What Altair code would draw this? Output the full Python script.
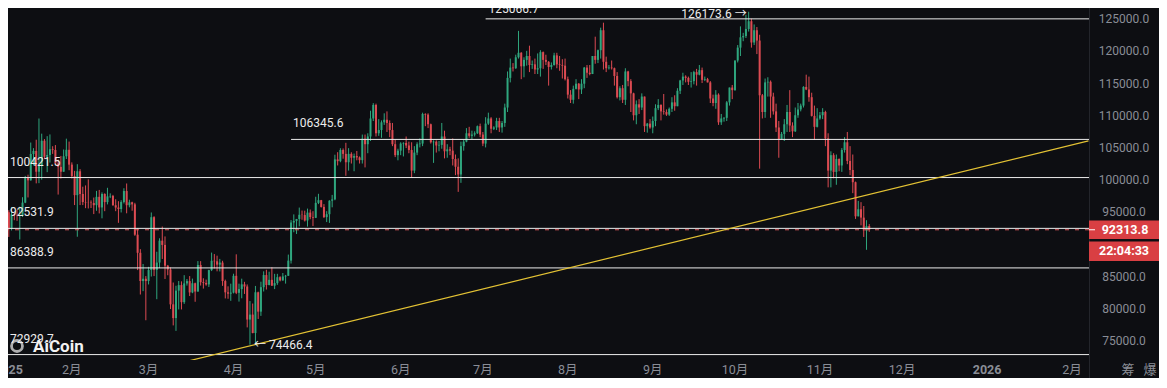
import altair as alt
import pandas as pd

# ---------------- data (daily candles, values in thousands of USDT) ----------------
FIRST_DAY = "2025-01-06"

open_k = [
    # Jan 6-31
    98.31, 102.08, 96.92, 95.04, 92.48, 94.70, 94.57, 94.51, 94.52, 96.53, 100.5, 99.99, 104.08, 104.56,
    101.33, 102.26, 106.14, 103.65, 103.93, 104.82, 104.71, 102.62, 102.08, 101.33, 103.73, 104.73,
    # Feb
    102.43, 100.64, 97.69, 101.4, 97.87, 96.62, 96.55, 96.53, 96.47, 96.13, 97.43, 95.78, 97.87, 96.61,
    97.5, 97.57, 96.12, 95.77, 95.54, 96.62, 98.33, 96.13, 96.58, 96.26, 91.55, 88.74, 84.35, 84.7,
    # Mar
    84.35, 86.06, 94.27, 86.07, 87.22, 90.62, 89.96, 86.74, 86.15, 80.73, 78.6, 82.86, 83.72, 81.07,
    83.98, 84.34, 82.58, 84.01, 82.72, 86.85, 84.17, 84.04, 83.83, 86.05, 87.5, 87.42, 86.9, 87.22,
    84.35, 82.6, 82.39,
    # Apr
    82.55, 85.16, 82.52, 83.1, 83.84, 83.5, 78.37, 79.14, 76.27, 82.6, 79.6, 83.4, 85.28, 83.74,
    84.54, 83.63, 84.03, 84.95, 84.45, 85.06, 85.17, 87.52, 93.44, 93.69, 93.98, 94.64, 94.6, 93.75,
    94.98, 94.28,
    # May
    94.17, 96.49, 96.91, 95.86, 94.28, 94.73, 96.83, 97.03, 103.24, 102.97, 104.7, 104.1, 102.8, 104.1,
    103.5, 103.76, 103.55, 103.13, 106.45, 105.6, 106.8, 109.6, 111.7, 107.3, 107.8, 109.0, 109.4, 108.9,
    107.8, 105.6, 103.9,
    # Jun
    104.6, 105.7, 105.8, 105.4, 104.7, 101.5, 104.3, 105.6, 105.7, 110.3, 110.2, 108.7, 105.9, 106.0,
    105.4, 105.5, 106.8, 104.5, 104.8, 104.6, 103.3, 102.1, 100.9, 105.3, 106.0, 107.3, 106.9, 107.1,
    107.3, 108.4,
    # Jul
    107.1, 105.7, 108.8, 109.6, 108.0, 108.2, 109.2, 108.2, 108.9, 111.3, 115.9, 117.5, 117.4, 119.1,
    119.8, 117.7, 118.7, 119.3, 117.9, 118.0, 117.2, 117.4, 119.9, 118.7, 118.4, 117.6, 117.9, 119.4,
    118.0, 117.9, 117.8,
    # Aug
    115.7, 113.3, 112.5, 114.2, 115.0, 114.1, 115.0, 117.5, 116.7, 116.5, 119.3, 118.7, 120.2, 123.3,
    118.4, 117.4, 117.5, 117.4, 116.2, 112.9, 114.3, 112.5, 116.9, 115.4, 113.5, 110.1, 111.8, 111.3,
    113.0, 108.4, 108.8,
    # Sep
    108.2, 109.2, 111.2, 111.7, 110.7, 110.6, 110.2, 111.1, 112.1, 111.5, 113.9, 115.5, 116.1, 115.9,
    115.3, 115.4, 116.8, 116.4, 117.1, 115.6, 115.7, 115.2, 112.7, 112.0, 113.3, 109.0, 109.6, 109.7,
    112.1, 114.4,
    # Oct
    114.0, 118.6, 120.6, 122.2, 122.4, 123.5, 124.7, 121.4, 123.3, 121.7, 113.2, 110.6, 115.2, 115.3,
    113.0, 110.7, 108.2, 106.4, 107.2, 108.7, 110.6, 108.5, 107.6, 110.1, 111.0, 111.6, 114.5, 114.1,
    112.9, 110.0, 108.3,
    # Nov 1-19
    109.6, 110.1, 110.6, 106.5, 101.5, 103.9, 101.3, 103.3, 102.3, 104.7, 105.9, 103.0, 101.6, 99.7,
    94.4, 95.5, 94.2, 92.2, 92.9,
]

high_k = [
    102.48, 102.72, 97.26, 95.35, 95.84, 94.98, 95.4, 95.9, 97.37, 100.68, 100.87, 105.86, 104.99, 106.3,
    109.59, 107.24, 106.4, 106.85, 107.12, 105.29, 105.47, 103.22, 103.78, 104.78, 106.46, 106.01,
    102.78, 101.46, 102.5, 101.73, 99.0, 99.2, 100.14, 96.88, 97.32, 98.35, 98.5, 98.12, 97.98, 98.83,
    97.97, 97.73, 97.05, 96.75, 96.9, 98.76, 99.5, 96.98, 96.67, 96.5, 92.54, 89.3, 87.0, 85.12,
    86.56, 95.0, 94.42, 88.9, 90.99, 92.81, 91.28, 86.85, 86.47, 84.12, 83.62, 84.36, 84.3, 85.26,
    84.67, 85.12, 84.73, 84.1, 87.45, 87.44, 84.78, 84.57, 86.1, 88.77, 88.54, 88.29, 87.79, 87.5,
    84.57, 83.53, 83.94,
    85.49, 88.5, 83.94, 84.72, 84.23, 83.82, 81.24, 80.86, 83.59, 82.7, 84.25, 85.86, 86.1, 85.8,
    86.5, 85.47, 85.47, 85.1, 85.6, 85.3, 88.46, 93.82, 94.7, 94.0, 95.76, 95.3, 95.28, 95.6,
    95.46, 95.2,
    97.44, 97.9, 96.95, 96.3, 95.2, 96.9, 97.73, 103.97, 104.36, 104.98, 104.94, 105.82, 104.99, 104.35,
    104.15, 104.55, 103.7, 107.1, 107.1, 107.3, 110.8, 111.98, 111.9, 109.5, 109.3, 110.4, 110.7, 109.3,
    108.9, 106.3, 104.9,
    105.9, 105.9, 106.8, 106.0, 105.9, 105.3, 105.9, 106.5, 110.5, 110.4, 110.4, 108.8, 106.2, 106.2,
    106.1, 108.9, 107.7, 105.6, 105.2, 106.5, 104.0, 103.4, 106.0, 106.3, 108.1, 108.3, 107.7, 107.6,
    108.5, 108.8,
    107.5, 109.8, 110.5, 109.8, 108.4, 109.7, 109.7, 109.2, 111.9, 116.9, 118.9, 118.2, 119.5, 123.2,
    119.9, 119.1, 120.1, 120.9, 118.6, 118.9, 119.7, 120.2, 120.0, 119.5, 118.5, 118.3, 119.8, 119.8,
    119.3, 118.8, 118.9,
    116.1, 114.0, 114.7, 115.7, 115.1, 115.7, 117.6, 117.9, 117.9, 119.3, 122.3, 120.3, 123.7, 124.47,
    119.2, 117.9, 118.6, 117.5, 116.8, 114.6, 114.8, 117.4, 117.0, 115.7, 113.6, 112.4, 112.6, 113.5,
    113.0, 108.9, 109.5,
    109.9, 111.8, 112.6, 111.8, 113.4, 111.0, 111.3, 112.9, 113.2, 114.3, 115.6, 116.7, 116.3, 116.1,
    116.8, 117.0, 117.3, 117.9, 117.5, 116.1, 115.9, 115.4, 113.3, 114.0, 113.5, 110.3, 109.8, 112.3,
    114.4, 114.8,
    118.6, 121.0, 123.9, 122.9, 125.7, 126.1736, 125.1, 124.2, 123.8, 122.6, 113.4, 115.8, 116.0, 115.5,
    113.6, 111.9, 109.2, 107.5, 109.5, 111.7, 114.0, 109.0, 111.3, 112.0, 111.9, 114.6, 116.4, 116.1,
    113.6, 111.6, 111.2,
    110.6, 111.2, 110.8, 107.3, 104.5, 104.2, 104.0, 103.4, 105.0, 106.7, 107.5, 105.3, 104.0, 99.8,
    96.8, 96.6, 96.0, 93.8, 93.2,
]

low_k = [
    97.9, 96.1, 92.5, 91.2, 92.2, 93.8, 93.7, 90.8, 94.3, 96.45, 97.33, 99.95, 102.3, 99.52,
    99.55, 100.1, 103.3, 101.26, 102.75, 104.1, 102.46, 97.78, 100.27, 101.33, 103.3, 101.56,
    100.28, 96.15, 91.23, 96.15, 96.15, 95.67, 95.62, 95.69, 94.75, 95.26, 94.85, 94.09, 95.2, 96.25,
    97.23, 96.05, 95.2, 93.39, 95.0, 96.4, 94.87, 95.8, 95.27, 91.37, 86.05, 82.26, 82.78, 78.26,
    83.82, 85.05, 85.12, 81.53, 86.38, 87.78, 84.67, 85.25, 80.0, 77.46, 76.61, 79.94, 79.94, 80.8,
    83.64, 82.02, 82.46, 81.13, 82.7, 83.65, 83.18, 83.63, 83.43, 85.9, 86.3, 85.86, 85.84, 83.6,
    81.65, 81.6, 81.28,
    82.43, 82.32, 81.16, 81.67, 82.35, 77.15, 74.4664, 76.24, 74.62, 78.46, 78.94, 82.73, 83.03, 83.68,
    83.6, 83.1, 83.76, 84.3, 84.4, 83.95, 85.14, 87.07, 91.93, 91.66, 92.85, 93.87, 93.6, 92.8,
    93.95, 92.9,
    94.13, 96.3, 95.76, 94.13, 93.51, 93.38, 95.8, 96.9, 102.3, 102.8, 103.35, 100.7, 101.5, 102.6,
    101.4, 103.1, 102.6, 102.6, 102.0, 104.2, 106.1, 109.2, 106.8, 106.9, 106.6, 108.6, 107.5, 106.7,
    105.3, 103.6, 103.1,
    103.9, 103.7, 105.0, 104.2, 100.4, 101.1, 103.9, 105.1, 105.3, 108.4, 108.1, 105.7, 102.7, 104.3,
    104.5, 104.9, 103.4, 103.5, 103.9, 102.3, 100.8, 98.2, 99.6, 104.6, 105.9, 106.6, 106.4, 106.8,
    107.2, 106.7,
    105.3, 105.1, 108.6, 107.3, 107.8, 107.8, 107.5, 107.4, 108.3, 110.6, 115.2, 116.9, 117.3, 118.9,
    115.7, 116.0, 117.8, 116.8, 117.3, 116.5, 116.5, 116.1, 117.3, 117.9, 114.7, 117.2, 117.8, 117.4,
    117.0, 115.8, 115.5,
    112.7, 112.0, 111.9, 114.1, 112.6, 113.4, 114.3, 115.9, 116.3, 116.5, 118.1, 118.2, 118.9, 117.2,
    116.8, 117.2, 117.2, 114.7, 112.7, 112.4, 112.0, 111.7, 114.6, 110.6, 109.3, 108.7, 110.3, 110.9,
    107.5, 107.4, 108.0,
    107.3, 108.4, 110.9, 109.3, 110.2, 110.0, 110.0, 110.6, 110.8, 111.5, 113.4, 114.8, 115.2, 114.8,
    114.4, 114.9, 114.7, 116.3, 115.1, 115.4, 115.2, 112.0, 111.5, 111.1, 108.6, 108.6, 109.1, 109.2,
    111.6, 112.6,
    113.9, 118.3, 119.3, 121.6, 122.1, 123.1, 120.6, 121.0, 119.6, 101.8, 109.6, 109.7, 113.0, 109.7,
    110.2, 107.5, 103.5, 106.3, 106.1, 107.5, 107.5, 106.7, 107.5, 109.7, 110.7, 111.3, 114.0, 112.2,
    109.9, 106.3, 108.2,
    109.4, 109.5, 105.3, 98.9, 98.9, 100.3, 99.3, 101.4, 101.3, 104.3, 102.5, 100.8, 98.0, 94.0,
    94.4, 93.0, 91.2, 89.2, 92.0,
]

close_k = [
    102.08, 96.92, 95.04, 92.48, 94.70, 94.57, 94.51, 94.52, 96.53, 100.5, 99.99, 104.08, 104.56, 101.33,
    102.26, 106.14, 103.65, 103.93, 104.82, 104.71, 102.62, 102.08, 101.33, 103.73, 104.73, 102.43,
    100.64, 97.69, 101.4, 97.87, 96.62, 96.55, 96.53, 96.47, 96.13, 97.43, 95.78, 97.87, 96.61, 97.5,
    97.57, 96.12, 95.77, 95.54, 96.62, 98.33, 96.13, 96.58, 96.26, 91.55, 88.74, 84.35, 84.7, 84.35,
    86.06, 94.27, 86.07, 87.22, 90.62, 89.96, 86.74, 86.15, 80.73, 78.6, 82.86, 83.72, 81.07, 83.98,
    84.34, 82.58, 84.01, 82.72, 86.85, 84.17, 84.04, 83.83, 86.05, 87.5, 87.42, 86.9, 87.22, 84.35,
    82.6, 82.39, 82.55,
    85.16, 82.52, 83.1, 83.84, 83.5, 78.37, 79.14, 76.27, 82.6, 79.6, 83.4, 85.28, 83.74, 84.54,
    83.63, 84.03, 84.95, 84.45, 85.06, 85.17, 87.52, 93.44, 93.69, 93.98, 94.64, 94.6, 93.75, 94.98,
    94.28, 94.17,
    96.49, 96.91, 95.86, 94.28, 94.73, 96.83, 97.03, 103.24, 102.97, 104.7, 104.1, 102.8, 104.1, 103.5,
    103.76, 103.55, 103.13, 106.45, 105.6, 106.8, 109.6, 111.7, 107.3, 107.8, 109.0, 109.4, 108.9, 107.8,
    105.6, 103.9, 104.6,
    105.7, 105.8, 105.4, 104.7, 101.5, 104.3, 105.6, 105.7, 110.3, 110.2, 108.7, 105.9, 106.0, 105.4,
    105.5, 106.8, 104.5, 104.8, 104.6, 103.3, 102.1, 100.9, 105.3, 106.0, 107.3, 106.9, 107.1, 107.3,
    108.4, 107.1,
    105.7, 108.8, 109.6, 108.0, 108.2, 109.2, 108.2, 108.9, 111.3, 115.9, 117.5, 117.4, 119.1, 119.8,
    117.7, 118.7, 119.3, 117.9, 118.0, 117.2, 117.4, 119.9, 118.7, 118.4, 117.6, 117.9, 119.4, 118.0,
    117.9, 117.8, 115.7,
    113.3, 112.5, 114.2, 115.0, 114.1, 115.0, 117.5, 116.7, 116.5, 119.3, 118.7, 120.2, 123.3, 118.4,
    117.4, 117.5, 117.4, 116.2, 112.9, 114.3, 112.5, 116.9, 115.4, 113.5, 110.1, 111.8, 111.3, 113.0,
    108.4, 108.8, 108.2,
    109.2, 111.2, 111.7, 110.7, 110.6, 110.2, 111.1, 112.1, 111.5, 113.9, 115.5, 116.1, 115.9, 115.3,
    115.4, 116.8, 116.4, 117.1, 115.6, 115.7, 115.2, 112.7, 112.0, 113.3, 109.0, 109.6, 109.7, 112.1,
    114.4, 114.0,
    118.6, 120.6, 122.2, 122.4, 123.5, 124.7, 121.4, 123.3, 121.7, 113.2, 110.6, 115.2, 115.3, 113.0,
    110.7, 108.2, 106.4, 107.2, 108.7, 110.6, 108.5, 107.6, 110.1, 111.0, 111.6, 114.5, 114.1, 112.9,
    110.0, 108.3, 109.6,
    110.1, 110.6, 106.5, 101.5, 103.9, 101.3, 103.3, 102.3, 104.7, 105.9, 103.0, 101.6, 99.7, 94.4,
    95.5, 94.2, 92.2, 92.9, 92.3138,
]

# horizontal levels drawn on the chart
level_values = [125066.7, 106345.6, 100421.5, 92531.9, 86388.9, 72929.7]
level_start = ["2025-07-02", "2025-04-22", "2025-01-01", "2025-01-01", "2025-01-01", "2025-01-01"]
level_label_at = ["2025-07-02", "2025-04-22", "2025-01-08T17:00:00Z", "2025-01-08T17:00:00Z",
                  "2025-01-08T17:00:00Z", "2025-01-08T17:00:00Z"]
LEVEL_END = "2026-02-20"

# yellow trend line (two anchor points)
trend_dates = ["2025-03-07", "2026-02-07"]
trend_values = [71050, 106125]

# extreme annotations
high_date, high_value = "2025-10-06", 126173.6
low_date, low_value = "2025-04-07", 74466.4

# last price & countdown
last_price = [92313.8]
countdown = ["22:04:33"]

# axis labels
y_ticks = [75000, 80000, 85000, 95000, 100000, 105000, 110000, 115000, 120000, 125000]
month_dates = ["2025-02-01", "2025-03-01", "2025-04-01", "2025-05-01", "2025-06-01", "2025-07-01",
               "2025-08-01", "2025-09-01", "2025-10-01", "2025-11-01", "2025-12-01", "2026-02-01"]
month_labels = ["2月", "3月", "4月", "5月", "6月", "7月", "8月", "9月", "10月", "11月", "12月", "2月"]
year_dates = ["2026-01-01"]
year_labels = ["2026"]
first_year_date = ["2025-01-01"]
first_year_label = ["2025"]
side_labels = ["筹", "爆"]

# ---------------- tables ----------------
candles = pd.DataFrame({
    "date": pd.date_range(FIRST_DAY, periods=len(close_k), freq="D").strftime("%Y-%m-%d"),
    "open": [v * 1000 for v in open_k],
    "high": [v * 1000 for v in high_k],
    "low": [v * 1000 for v in low_k],
    "close": [v * 1000 for v in close_k],
})
candles["dir"] = ["up" if c >= o else "down" for o, c in zip(candles["open"], candles["close"])]

levels = pd.DataFrame({"value": level_values, "start": level_start, "end": LEVEL_END,
                       "label_at": level_label_at})
trend = pd.DataFrame({"date": trend_dates, "value": trend_values})
hi_df = pd.DataFrame({"date": [high_date], "value": [high_value]})
lo_df = pd.DataFrame({"date": [low_date], "value": [low_value]})
price_df = pd.DataFrame({"price": last_price, "countdown": countdown})
ytick_df = pd.DataFrame({"value": y_ticks})
month_df = pd.DataFrame({"date": month_dates, "label": month_labels})
year_df = pd.DataFrame({"date": year_dates, "label": year_labels})
first_year_df = pd.DataFrame({"date": first_year_date, "label": first_year_label})
side_df = pd.DataFrame({"label": side_labels})
wm_df = pd.DataFrame({"label": ["AiCoin"]})

# ---------------- styling ----------------
W, H = 1081, 352
BG = "#0d0e12"
GREEN = "#2fa67e"
RED = "#dc4b52"
WHITE = "#ececec"
YELLOW = "#e3c234"
GREY = "#8a8d96"
TAG = "#d93f43"
FONT = "Roboto, 'Noto Sans CJK SC', sans-serif"

xscale = alt.Scale(type="utc", domain=[
    alt.DateTime(year=2025, month=1, date=8, hours=16, minutes=48, utc=True),
    alt.DateTime(year=2026, month=2, date=7, hours=4, minutes=48, utc=True),
])
yscale = alt.Scale(domain=[72088, 126755], nice=False, zero=False)


def X(field):
    return alt.X(field, type="temporal", scale=xscale, axis=None)


def Y(field):
    return alt.Y(field, type="quantitative", scale=yscale, axis=None)


color_enc = alt.Color("dir:N", scale=alt.Scale(domain=["up", "down"], range=[GREEN, RED]), legend=None)

wicks = alt.Chart(candles).mark_rule(strokeWidth=1, clip=True).encode(
    x=X("date"), y=Y("low"), y2="high", color=color_enc)
bodies = alt.Chart(candles).mark_rule(strokeWidth=2, clip=True).encode(
    x=X("date"), y=Y("open"), y2="close", color=color_enc)

level_lines = alt.Chart(levels).mark_rule(color=WHITE, strokeWidth=1, clip=True).encode(
    x=X("start"), x2="end", y=Y("value"))
level_text = alt.Chart(levels).transform_filter("datum.value < 120000").mark_text(
    align="left", baseline="middle", dx=2, dy=-16, color=WHITE, fontSize=12, font=FONT).encode(
    x=X("label_at"), y=Y("value"), text=alt.Text("value:Q", format=".1f"))
level_text_top = alt.Chart(levels).transform_filter("datum.value >= 120000").mark_text(
    align="left", baseline="middle", dx=3, dy=-10, color=WHITE, fontSize=12, font=FONT).encode(
    x=X("label_at"), y=Y("value"), text=alt.Text("value:Q", format=".1f"))

price_line = alt.Chart(price_df).mark_rule(color="#e0575c", strokeDash=[4, 6], strokeWidth=1).encode(
    y=Y("price"))

trend_line = alt.Chart(trend).mark_line(color=YELLOW, strokeWidth=1.2, clip=True).encode(
    x=X("date"), y=Y("value"))

hi_text = alt.Chart(hi_df).transform_calculate(t="format(datum.value, '.1f') + ' →'").mark_text(
    align="right", baseline="middle", dx=-2, dy=2, color=WHITE, fontSize=12, font=FONT).encode(
    x=X("date"), y=Y("value"), text="t:N")
lo_text = alt.Chart(lo_df).transform_calculate(t="'← ' + format(datum.value, '.1f')").mark_text(
    align="left", baseline="middle", dx=4, color=WHITE, fontSize=12, font=FONT).encode(
    x=X("date"), y=Y("value"), text="t:N")

# right-hand price axis
separator = alt.Chart(price_df).mark_rule(color="#23252b", strokeWidth=1).encode(
    x=alt.value(W + 0.5), y=alt.value(0), y2=alt.value(H + 18))
y_labels = alt.Chart(ytick_df).mark_text(
    align="center", baseline="middle", color=GREY, fontSize=12, font=FONT).encode(
    x=alt.value(W + 35), y=Y("value"), text=alt.Text("value:Q", format=".1f"))

# bottom time axis
month_text = alt.Chart(month_df).mark_text(
    align="center", baseline="top", color=GREY, fontSize=12.5, font=FONT).encode(
    x=X("date"), y=alt.value(H + 4), text="label:N")
year_text = alt.Chart(year_df).mark_text(
    align="center", baseline="top", color=GREY, fontSize=12.5, fontWeight="bold", font=FONT).encode(
    x=X("date"), y=alt.value(H + 4), text="label:N")
first_year_text = alt.Chart(first_year_df).mark_text(
    align="right", baseline="top", dx=36, color=GREY, fontSize=12.5, fontWeight="bold", font=FONT).encode(
    x=X("date"), y=alt.value(H + 4), text="label:N")

# last-price tags
tag1 = alt.Chart(price_df).mark_rule(color=TAG, strokeWidth=18.5).encode(
    x=alt.value(W), x2=alt.value(W + 70), y=Y("price"))
tag2 = alt.Chart(price_df).mark_rule(color=TAG, strokeWidth=19.5, yOffset=21.5).encode(
    x=alt.value(W), x2=alt.value(W + 70), y=Y("price"))
tag_tick = alt.Chart(price_df).mark_rule(color="#ffffff", strokeWidth=1).encode(
    x=alt.value(W), x2=alt.value(W + 6), y=Y("price"))
tag_text1 = alt.Chart(price_df).mark_text(
    align="center", baseline="middle", color="#ffffff", fontSize=12.5, fontWeight="bold", font=FONT).encode(
    x=alt.value(W + 36), y=Y("price"), text=alt.Text("price:Q", format=".1f"))
tag_text2 = alt.Chart(price_df).mark_text(
    align="center", baseline="middle", dy=21.5, color="#ffffff", fontSize=12.5, fontWeight="bold",
    font=FONT).encode(x=alt.value(W + 35), y=Y("price"), text="countdown:N")

side1 = alt.Chart(side_df).transform_filter("datum.label == '筹'").mark_text(
    align="center", baseline="top", color=GREY, fontSize=13, font=FONT).encode(
    x=alt.value(W + 39), y=alt.value(H + 4), text="label:N")
side2 = alt.Chart(side_df).transform_filter("datum.label == '爆'").mark_text(
    align="center", baseline="top", color=GREY, fontSize=13, font=FONT).encode(
    x=alt.value(W + 61), y=alt.value(H + 4), text="label:N")

wm_ring = alt.Chart(wm_df).mark_point(shape="circle", filled=False, size=120, strokeWidth=2.8,
                                       color="#f2f2f2").encode(x=alt.value(9), y=alt.value(338))
wm_text = alt.Chart(wm_df).mark_text(
    align="left", baseline="middle", color="#f2f2f2", fontSize=17, fontWeight="bold", font=FONT).encode(
    x=alt.value(25), y=alt.value(339), text="label:N")

chart = alt.layer(
    wicks, bodies, level_lines, price_line, trend_line, level_text, level_text_top,
    hi_text, lo_text, separator, y_labels, month_text, year_text, first_year_text,
    tag1, tag2, tag_tick, tag_text1, tag_text2, side1, side2, wm_ring, wm_text,
).properties(
    width=W, height=H,
    autosize=alt.AutoSizeParams(type="none"),
    padding={"left": 0, "top": 0, "right": 70, "bottom": 18},
).configure(
    background=BG, font=FONT,
).configure_view(stroke="transparent")

chart.save("out.html", embed_options={"renderer": "svg", "actions": False})
